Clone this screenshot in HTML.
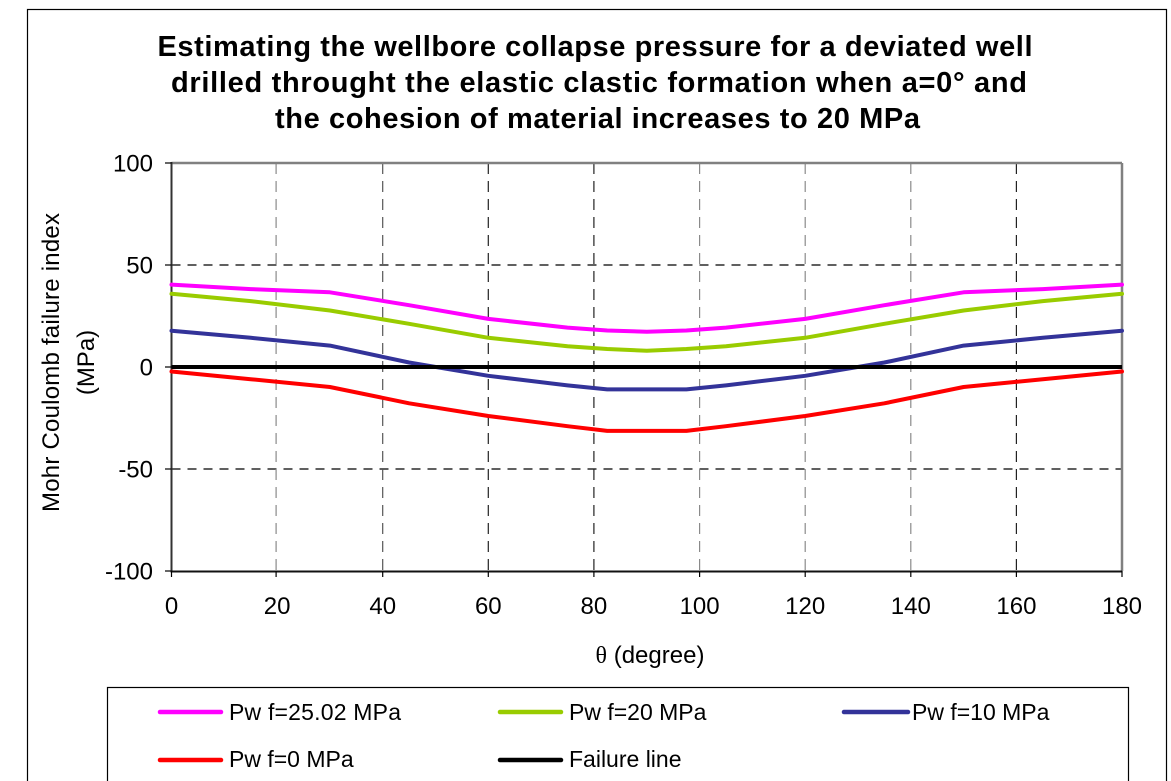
<!DOCTYPE html>
<html>
<head>
<meta charset="utf-8">
<style>
  html, body { margin: 0; padding: 0; background: #ffffff; }
  svg { display: block; }
  text { font-family: "Liberation Sans", Arial, sans-serif; fill: #000; }
</style>
</head>
<body>
<svg width="1171" height="781" viewBox="0 0 1171 781" xmlns="http://www.w3.org/2000/svg">
  <rect x="0" y="0" width="1171" height="781" fill="#ffffff"/>
  <!-- outer chart frame -->
  <rect x="27.5" y="9.5" width="1139" height="790" fill="none" stroke="#000" stroke-width="1.2"/>

  <!-- title -->
  <g font-weight="bold" font-size="29" text-anchor="middle">
    <text x="595" y="56" textLength="875" lengthAdjust="spacing">Estimating the wellbore collapse pressure for a deviated well</text>
    <text x="599" y="92" textLength="856" lengthAdjust="spacing">drilled throught the elastic clastic formation when a=0° and</text>
    <text x="597.5" y="128" textLength="645" lengthAdjust="spacing">the cohesion of material increases to 20 MPa</text>
  </g>

  <!-- gridlines -->
  <g fill="none" stroke-width="1.2">
    <line x1="171.5" y1="265" x2="1122" y2="265" stroke="#000" stroke-dasharray="9,7"/>
    <line x1="171.5" y1="469" x2="1122" y2="469" stroke="#000" stroke-dasharray="9,7"/>
    <line x1="276.1" y1="163" x2="276.1" y2="571" stroke="#8a8a8a" stroke-dasharray="11,7"/>
    <line x1="382.7" y1="163" x2="382.7" y2="571" stroke="#555" stroke-dasharray="11,7"/>
    <line x1="488.3" y1="163" x2="488.3" y2="571" stroke="#222" stroke-dasharray="11,7"/>
    <line x1="593.9" y1="163" x2="593.9" y2="571" stroke="#222" stroke-dasharray="11,7"/>
    <line x1="699.6" y1="163" x2="699.6" y2="571" stroke="#8a8a8a" stroke-dasharray="11,7"/>
    <line x1="805.2" y1="163" x2="805.2" y2="571" stroke="#8a8a8a" stroke-dasharray="11,7"/>
    <line x1="910.8" y1="163" x2="910.8" y2="571" stroke="#8a8a8a" stroke-dasharray="11,7"/>
    <line x1="1016.4" y1="163" x2="1016.4" y2="571" stroke="#222" stroke-dasharray="11,7"/>
  </g>

  <!-- plot border -->
  <line x1="171.5" y1="163" x2="1122" y2="163" stroke="#808080" stroke-width="2.5"/>
  <line x1="1122" y1="163" x2="1122" y2="571" stroke="#808080" stroke-width="2.5"/>
  <line x1="171.5" y1="162" x2="171.5" y2="572" stroke="#333" stroke-width="2"/>
  <line x1="170.5" y1="571.5" x2="1122" y2="571.5" stroke="#111" stroke-width="2"/>

  <!-- y ticks -->
  <g stroke="#000" stroke-width="1.2">
    <line x1="165" y1="163" x2="171.5" y2="163"/>
    <line x1="165" y1="265" x2="171.5" y2="265"/>
    <line x1="165" y1="367" x2="171.5" y2="367"/>
    <line x1="165" y1="469" x2="171.5" y2="469"/>
    <line x1="165" y1="571" x2="171.5" y2="571"/>
  </g>
  <!-- x ticks -->
  <g stroke="#000" stroke-width="1.2">
    <line x1="171.5" y1="571" x2="171.5" y2="577"/>
    <line x1="276.1" y1="571" x2="276.1" y2="577"/>
    <line x1="382.7" y1="571" x2="382.7" y2="577"/>
    <line x1="488.3" y1="571" x2="488.3" y2="577"/>
    <line x1="593.9" y1="571" x2="593.9" y2="577"/>
    <line x1="699.6" y1="571" x2="699.6" y2="577"/>
    <line x1="805.2" y1="571" x2="805.2" y2="577"/>
    <line x1="910.8" y1="571" x2="910.8" y2="577"/>
    <line x1="1016.4" y1="571" x2="1016.4" y2="577"/>
    <line x1="1122" y1="571" x2="1122" y2="577"/>
  </g>

  <!-- y tick labels -->
  <g font-size="24" text-anchor="end">
    <text x="153" y="171.5">100</text>
    <text x="153" y="273.5">50</text>
    <text x="153" y="375.5">0</text>
    <text x="153" y="477.5">-50</text>
    <text x="153" y="579.5">-100</text>
  </g>
  <!-- x tick labels -->
  <g font-size="24" text-anchor="middle">
    <text x="171.5" y="614">0</text>
    <text x="277.1" y="614">20</text>
    <text x="382.7" y="614">40</text>
    <text x="488.3" y="614">60</text>
    <text x="593.9" y="614">80</text>
    <text x="699.6" y="614">100</text>
    <text x="805.2" y="614">120</text>
    <text x="910.8" y="614">140</text>
    <text x="1016.4" y="614">160</text>
    <text x="1122" y="614">180</text>
  </g>

  <!-- axis titles -->
  <text x="650" y="663" font-size="24" text-anchor="middle"><tspan font-family="Liberation Serif, serif">θ</tspan> (degree)</text>
  <text transform="translate(59,362.5) rotate(-90)" font-size="24" text-anchor="middle" textLength="299" lengthAdjust="spacing">Mohr Coulomb failure index</text>
  <text transform="translate(94,362.5) rotate(-90)" font-size="24" text-anchor="middle">(MPa)</text>

  <!-- series -->
  <g fill="none" stroke-width="4" stroke-linejoin="round" stroke-linecap="round">
    <polyline stroke="#FF00FF" points="171.5,284.6 250.7,289.1 329.9,292.3 409.1,305.2 488.3,318.9 567.5,327.6 607.2,330.5 646.8,331.7 686.4,330.5 726.0,327.6 805.2,318.9 884.4,305.2 963.6,292.3 1042.8,289.1 1122,284.6"/>
    <polyline stroke="#99CC00" points="171.5,293.8 250.7,301.1 329.9,310.5 409.1,323.8 488.3,337.8 567.5,346.2 607.2,349.0 646.8,350.7 686.4,349.0 726.0,346.2 805.2,337.8 884.4,323.8 963.6,310.5 1042.8,301.1 1122,293.8"/>
    <polyline stroke="#333399" points="171.5,330.7 250.7,337.8 329.9,345.6 409.1,362.5 488.3,375.8 567.5,385.4 607.2,389.4 646.8,389.4 686.4,389.4 726.0,385.4 805.2,375.8 884.4,362.5 963.6,345.6 1042.8,337.8 1122,330.7"/>
    <polyline stroke="#FF0000" points="171.5,371.5 250.7,379.2 329.9,387.0 409.1,403.3 488.3,416.0 567.5,426.2 607.2,430.9 646.8,430.9 686.4,430.9 726.0,426.2 805.2,416.0 884.4,403.3 963.6,387.0 1042.8,379.2 1122,371.5"/>
    <line x1="171.5" y1="367" x2="1122" y2="367" stroke="#000" stroke-linecap="butt"/>
  </g>

  <!-- legend -->
  <rect x="107.5" y="687.5" width="1021" height="110" fill="#fff" stroke="#000" stroke-width="1.2"/>
  <g stroke-width="4.5" stroke-linecap="round">
    <line x1="160" y1="712" x2="221" y2="712" stroke="#FF00FF"/>
    <line x1="500" y1="712" x2="561" y2="712" stroke="#99CC00"/>
    <line x1="844" y1="712" x2="908" y2="712" stroke="#333399"/>
    <line x1="160" y1="760" x2="221" y2="760" stroke="#FF0000"/>
    <line x1="500" y1="760" x2="561" y2="760" stroke="#000"/>
  </g>
  <g font-size="23">
    <text x="229" y="720" textLength="172" lengthAdjust="spacing">Pw f=25.02 MPa</text>
    <text x="569" y="720">Pw f=20 MPa</text>
    <text x="912" y="720">Pw f=10 MPa</text>
    <text x="229" y="767">Pw f=0 MPa</text>
    <text x="569" y="767">Failure line</text>
  </g>
</svg>
</body>
</html>
